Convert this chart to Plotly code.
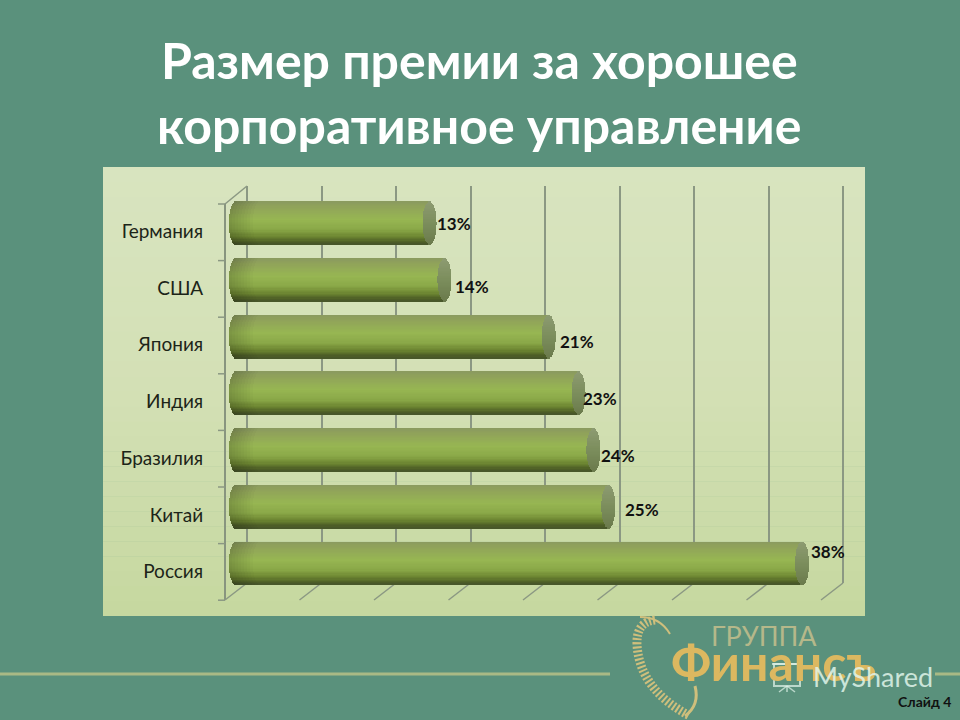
import math
import plotly.graph_objects as go

# ---- data ----
categories = ["Германия", "США", "Япония", "Индия", "Бразилия", "Китай", "Россия"]
values = [13, 14, 21, 23, 24, 25, 38]
title_lines = ["Размер премии за хорошее", "корпоративное управление"]
# per-label pixel nudges, as placed in the reference
label_dx = [24, 27, 28, 21, 24, 33, 26]
label_dy = [0, -6, -5, -5, -5, -3, 12]

W, H = 960, 720
PX = 14.9            # pixels per percent
X0 = 236             # pixel of zero on bar axis
BACK0 = 247          # pixel of zero on the back wall
RX = 7 / PX          # end-cap radius in axis units
N = 34               # strips used for cylinder shading
BG = "#5a917c"
FONT = "Lato"


def hx(c):
    return tuple(int(c[i:i + 2], 16) for i in (1, 3, 5))


def ramp(stops, t):
    for (a, ca), (b, cb) in zip(stops, stops[1:]):
        if t <= b:
            f = (t - a) / (b - a)
            A, B = hx(ca), hx(cb)
            return tuple(A[i] + (B[i] - A[i]) * f for i in range(3))
    return hx(stops[-1][1])


def rgb(c, k=1.0):
    return "rgb(%d,%d,%d)" % tuple(max(0, min(255, round(v * k))) for v in c)


BODY = [(0, "#8a9a60"), (0.12, "#90a25a"), (0.42, "#97b652"), (0.65, "#8aa848"),
        (0.82, "#6c8531"), (0.94, "#4e5f26"), (1, "#46542a")]
CAP = [(0, "#8d9b72"), (0.5, "#7c8e5c"), (1, "#6a7a4c")]

fig = go.Figure()

# invisible trace holding the back-wall axes (gridlines)
fig.add_trace(go.Scatter(x=[0, 40], y=[0, 1], xaxis="x", yaxis="y", mode="markers",
                         marker=dict(opacity=0), hoverinfo="skip", showlegend=False))

# cylinder bars, built as thin horizontal strips of each value
step = 1.0 / N
FADE = 8
for i in range(N):
    t = (i + 0.5) / N
    u = 2 * t - 1
    s = math.sqrt(max(0, 1 - u * u))
    w = 0.76
    off = -w / 2 + i * step * w
    wid = step * w * 1.25 if i < N - 1 else step * w
    col = ramp(BODY, t)
    base = -RX * s
    common = dict(orientation="h", y=categories, xaxis="x2", yaxis="y2", offset=off, width=wid,
                  hoverinfo="skip", showlegend=False, marker_line_width=0)
    fig.add_trace(go.Bar(x=[v - base for v in values], base=[base] * len(values),
                         marker_color=rgb(col), **common))
    for f in range(FADE, 0, -1):
        k = 1 - 0.17 * (FADE - f + 1) / FADE
        fig.add_trace(go.Bar(x=[f * 3 / PX] * len(values), base=[base] * len(values),
                             marker_color=rgb(col, k), **common))
    fig.add_trace(go.Bar(x=[2 * RX * s] * len(values), base=[v - RX * s for v in values],
                         marker_color=rgb(ramp(CAP, t)), **common))

# value labels
for cat, v, dx, dy in zip(categories, values, label_dx, label_dy):
    fig.add_annotation(x=v, y=cat, xref="x2", yref="y2", text=f"<b>{v}%</b>", showarrow=False,
                       xshift=dx, yshift=dy, font=dict(family=FONT, size=17, color="#111"))

# ---- decoration ----
shapes = []


def px(x):
    return x / W


def py(y):
    return 1 - y / H


def rect(x0, y0, x1, y1, color):
    shapes.append(dict(type="rect", xref="paper", yref="paper", x0=px(x0), x1=px(x1), y0=py(y0), y1=py(y1),
                       fillcolor=color, line_width=0, layer="below"))


def line(x0, y0, x1, y1, color="#8b9883", width=1.5):
    shapes.append(dict(type="line", xref="paper", yref="paper", x0=px(x0), x1=px(x1), y0=py(y0), y1=py(y1),
                       line=dict(color=color, width=width), layer="below"))


# panel gradient
PANEL = [(0, "#d8e4bf"), (0.5, "#d3e0b5"), (1, "#c6d8a0")]
rows = 30
for r in range(rows):
    y0 = 167 + (616 - 167) * r / rows
    y1 = 167 + (616 - 167) * (r + 1) / rows + 0.5
    rect(103, y0, 865, min(y1, 616), rgb(ramp(PANEL, r / (rows - 1))))

# wall frame
line(225, 204, 225, 600, "#88957f", 2)
line(225, 204, 247, 186)
for j in range(9):
    fx = 225 + 74.5 * j
    line(fx, 600, fx + 22, 583)
for j in range(8):
    ty = 204 + 56.6 * j
    line(218, ty, 225, ty)

# logo rule lines
line(0, 674, 610, 674, "#a9b985", 3)
line(935, 674, 960, 674, "#a9b985", 3)

LOGO = "#cfbf7c"
# coin ring of the logo
shapes.append(dict(type="path", xref="paper", yref="paper", layer="below",
                   path=f"M {px(655)} {py(620)} Q {px(636)} {py(622)} {px(637)} {py(645)} "
                        f"Q {px(640)} {py(690)} {px(690)} {py(716)}",
                   line=dict(color=LOGO, width=9, dash="2px,2px")))
shapes.append(dict(type="path", xref="paper", yref="paper", layer="below",
                   path=f"M {px(640)} {py(617)} Q {px(660)} {py(617)} {px(670)} {py(634)}",
                   line=dict(color=LOGO, width=2)))
shapes.append(dict(type="path", xref="paper", yref="paper", layer="below",
                   path=f"M {px(695)} {py(686)} Q {px(700)} {py(705)} {px(685)} {py(716)}",
                   line=dict(color=LOGO, width=3)))

# MyShared icon
ICON = "rgba(220,240,230,0.75)"
shapes.append(dict(type="rect", xref="paper", yref="paper", x0=px(774), x1=px(800), y0=py(664), y1=py(686),
                   line=dict(color=ICON, width=2), fillcolor="rgba(0,0,0,0)"))
line(787, 686, 779, 692, ICON, 1.5)
line(787, 686, 795, 692, ICON, 1.5)
line(787, 686, 787, 692, ICON, 1.5)
line(772, 664, 802, 664, ICON, 2)
for s_ in shapes[-4:]:
    s_["layer"] = "above"


def txt(x, y, text, size, color, family=FONT, bold=False, xanchor="center"):
    fig.add_annotation(x=px(x), y=py(y), xref="paper", yref="paper", text=f"<b>{text}</b>" if bold else text,
                       showarrow=False, xanchor=xanchor, yanchor="middle",
                       font=dict(family=family, size=size, color=color))


txt(479, 60, title_lines[0], 50, "white", bold=True)
txt(479, 125, title_lines[1], 50, "white", bold=True)
txt(764, 635, "ГРУППА", 27, "#b5b88a")
txt(773, 662, "Финансъ", 50, "#dcb860", bold=True)
txt(873, 676, "MyShared", 27, "rgba(225,245,235,0.85)")
txt(924, 701, "Слайд 4", 14, "#111", bold=True)

fig.update_layout(
    width=W, height=H, margin=dict(l=0, r=0, t=0, b=0),
    paper_bgcolor=BG, plot_bgcolor="rgba(0,0,0,0)",
    barmode="overlay", bargap=0, shapes=shapes, showlegend=False,
    xaxis=dict(domain=[px(BACK0 - 1.49), px(BACK0 + 40 * PX + 1.49)], range=[-0.1, 40.1], dtick=5, showgrid=True,
               gridcolor="#8b9883", gridwidth=1.5, zeroline=False, showticklabels=False, showline=False, ticks=""),
    yaxis=dict(domain=[py(583), py(186)], range=[0, 1], showgrid=False, zeroline=False,
               showticklabels=False, showline=False, ticks=""),
    xaxis2=dict(domain=[px(X0 - 2 * PX), px(X0 + 42 * PX)], range=[-2, 42], anchor="y2", showgrid=False,
                zeroline=False, showticklabels=False, showline=False, ticks=""),
    yaxis2=dict(domain=[py(592), py(195)], anchor="x2", autorange="reversed", type="category",
                categoryorder="array", categoryarray=categories,
                showgrid=False, zeroline=False, showline=False, ticks="",
                ticklabelstandoff=2, ticklabelshift=-8,
                tickfont=dict(family=FONT, size=19, color="#1c2418")),
)

fig.write_html("out.html", config={"displayModeBar": False},
               post_script="document.body.style.margin='0';document.body.style.overflow='hidden';")
